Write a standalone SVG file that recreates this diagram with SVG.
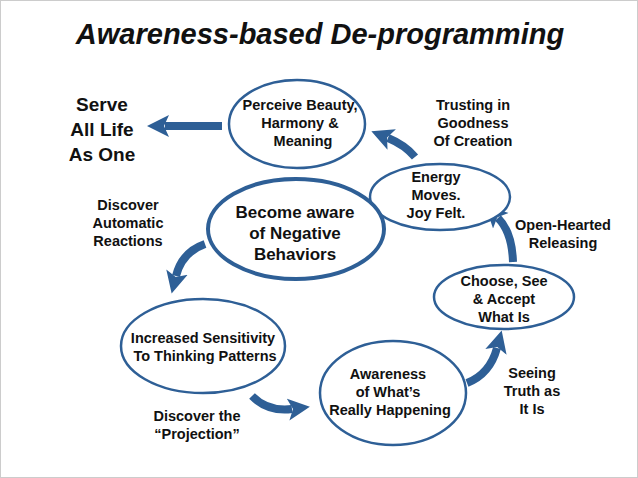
<svg xmlns="http://www.w3.org/2000/svg" width="638" height="478" viewBox="0 0 638 478">
<style>
text{font-family:"Liberation Sans",Arial,sans-serif;font-weight:bold;fill:#111;text-anchor:middle}
.n ellipse{fill:#fff;stroke:#2e5f96;stroke-width:2.5}
.t{font-size:14.5px}
.c path{fill:none;stroke:#2e5f96;stroke-width:8}
</style>
<defs>
<marker id="ah" markerUnits="userSpaceOnUse" markerWidth="26" markerHeight="26" refX="4" refY="13" orient="auto">
<path d="M0,2 L22,13 L0,24 L5,13 Z" fill="#2e5f96"/>
</marker>
</defs>
<rect x="0.5" y="0.5" width="637" height="477" fill="#fff" stroke="#ccc"/>
<text x="320" y="44" style="font-size:29px;font-style:italic">Awareness-based De-programming</text>
<g class="c">
<path d="M222,126 L165,126" marker-end="url(#ah)"/>
<path d="M415,157 Q405,145 388,138" marker-end="url(#ah)"/>
<path d="M513,262 Q512,232 498,218" marker-end="url(#ah)"/>
<path d="M205,244 Q182,252 176,276" marker-end="url(#ah)"/>
<path d="M252,396 Q268,412 292,409" marker-end="url(#ah)"/>
<path d="M467,383 Q490,374 497,348" marker-end="url(#ah)"/>
</g>
<g id="serve"><text x="102" y="111" style="font-size:19px">Serve</text><text x="102" y="136" style="font-size:19px">All Life</text><text x="102" y="161" style="font-size:19px">As One</text></g>
<g id="perceive" class="n"><ellipse cx="297" cy="124" rx="68" ry="44"/><text class="t" x="300" y="110">Perceive Beauty,</text><text class="t" x="300" y="128">Harmony &amp;</text><text class="t" x="303" y="146">Meaning</text></g>
<g id="trusting"><text class="t" x="473" y="110">Trusting in</text><text class="t" x="473" y="128">Goodness</text><text class="t" x="473" y="146">Of Creation</text></g>
<g id="energy" class="n"><ellipse cx="440" cy="197" rx="70" ry="33"/><text class="t" x="436" y="182">Energy</text><text class="t" x="436" y="200">Moves.</text><text class="t" x="436" y="218">Joy Felt.</text></g>
<g id="become" class="n"><ellipse cx="296" cy="229" rx="88" ry="50" style="stroke-width:4"/><text x="295" y="218" style="font-size:17px">Become aware</text><text x="295" y="239" style="font-size:17px">of Negative</text><text x="295" y="260" style="font-size:17px">Behaviors</text></g>
<g id="discover1"><text class="t" x="128" y="210">Discover</text><text class="t" x="128" y="228">Automatic</text><text class="t" x="128" y="246">Reactions</text></g>
<g id="open"><text class="t" x="563" y="230">Open-Hearted</text><text class="t" x="563" y="248">Releasing</text></g>
<g id="choose" class="n"><ellipse cx="504" cy="297" rx="70" ry="32"/><text class="t" x="504" y="286">Choose, See</text><text class="t" x="504" y="304">&amp; Accept</text><text class="t" x="504" y="322">What Is</text></g>
<g id="increased" class="n"><ellipse cx="203" cy="346" rx="82" ry="47"/><text class="t" x="203" y="343">Increased Sensitivity</text><text class="t" x="205" y="361">To Thinking Patterns</text></g>
<g id="awareness" class="n"><ellipse cx="393" cy="393" rx="73" ry="52"/><text class="t" x="388" y="379">Awareness</text><text class="t" x="388" y="397">of What’s</text><text class="t" x="390" y="415">Really Happening</text></g>
<g id="seeing"><text class="t" x="532" y="378">Seeing</text><text class="t" x="532" y="396">Truth as</text><text class="t" x="532" y="414">It Is</text></g>
<g id="discover2"><text class="t" x="197" y="421">Discover the</text><text class="t" x="197" y="439">“Projection”</text></g>
</svg>
